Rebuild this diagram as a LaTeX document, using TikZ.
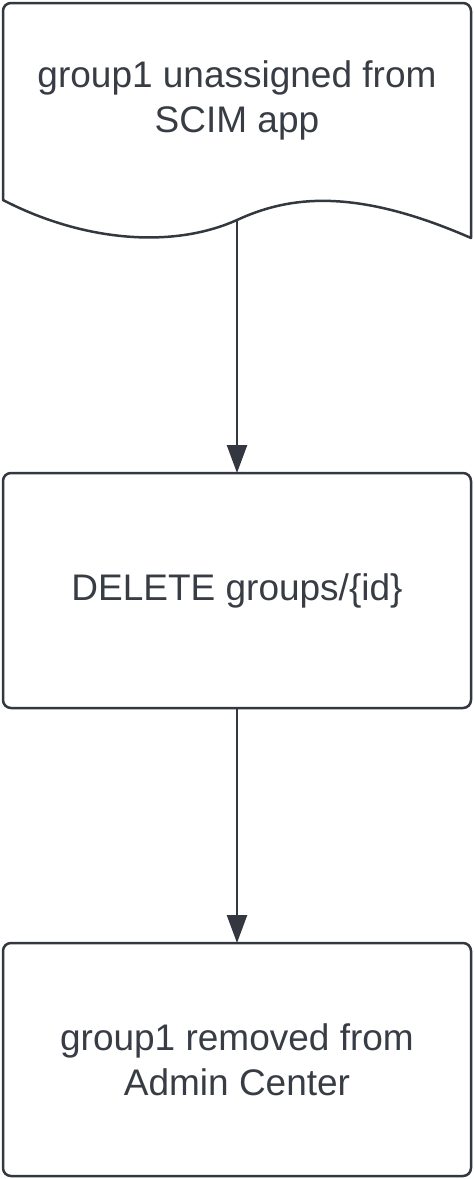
\documentclass[tikz,border=0pt]{standalone}
\usepackage{fontspec}
\setmainfont{Liberation Sans}
\usetikzlibrary{arrows.meta}
\definecolor{linec}{RGB}{51,56,64}
\definecolor{textc}{RGB}{56,61,69}
\tikzset{
  shapeline/.style={draw=linec, line width=2.5pt},
  boxnode/.style={shapeline, rounded corners=8pt, minimum width=468pt, inner sep=0pt, outer sep=0pt, text=textc, font=\fontsize{37}{45}\selectfont, align=center},
  txtnode/.style={text=textc, font=\fontsize{37}{45}\selectfont, align=center, inner sep=0pt},
  flow/.style={draw=linec, line width=2.5pt, -{Triangle[length=28pt, width=20pt]}}
}
\begin{document}
\begin{tikzpicture}[x=1pt, y=-1pt]
\useasboundingbox (0,0) rectangle (474,1179);
% document shape
\draw[shapeline, line join=round] (3,200) [rounded corners=8pt] -- (3,3) -- (471,3) [sharp corners] -- (471,238)
  .. controls (350,185) and (285,198) .. (237,220)
  .. controls (170,250) and (80,240) .. (3,200) -- cycle;
\coordinate (docout) at (237,220);
\node[txtnode] (doc) at (237,100) {group1 unassigned from\\SCIM app};
\node[boxnode, minimum height=235pt] (del) at (237,590.5) {DELETE groups/\{id\}};
\node[boxnode, minimum height=233pt] (rem) at (237,1059.5) {group1 removed from\\Admin Center};
\draw[flow] (docout) -- (del.north);
\draw[flow] (del.south) -- (rem.north);
\end{tikzpicture}
\end{document}
